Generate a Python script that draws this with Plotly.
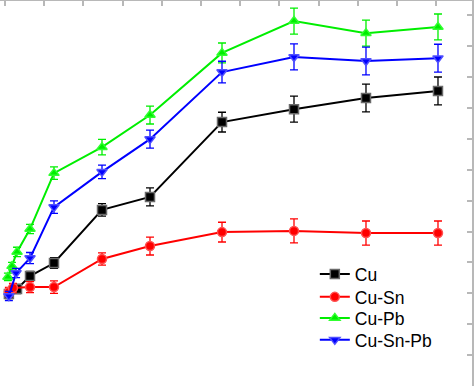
import plotly.graph_objects as go

# Data (x: time-like units, y: arbitrary units)
series_names = ["Cu", "Cu-Sn", "Cu-Pb", "Cu-Sn-Pb"]

cu_x = [1.12, 1.46, 2.0, 3.0, 5.0, 7.0, 10.0, 13.0, 16.0, 19.0]
cu_y = [2.98, 3.14, 3.56, 3.98, 5.70, 6.12, 8.54, 8.96, 9.32, 9.55]
cu_err = [0.15, 0.15, 0.15, 0.17, 0.20, 0.29, 0.32, 0.42, 0.45, 0.45]

cusn_x = [1.12, 1.29, 2.0, 3.0, 5.0, 7.0, 10.0, 13.0, 16.0, 19.0]
cusn_y = [3.04, 3.17, 3.20, 3.20, 4.11, 4.53, 4.98, 5.02, 4.95, 4.95]
cusn_err = [0.15, 0.15, 0.18, 0.20, 0.20, 0.29, 0.32, 0.39, 0.39, 0.39]

cupb_x = [1.08, 1.25, 1.46, 2.0, 3.0, 5.0, 7.0, 10.0, 13.0, 16.0, 19.0]
cupb_y = [3.53, 3.88, 4.34, 5.08, 6.89, 7.73, 8.77, 10.78, 11.81, 11.42, 11.62]
cupb_err = [0.12, 0.12, 0.15, 0.15, 0.20, 0.25, 0.29, 0.32, 0.42, 0.42, 0.42]

cusnpb_x = [1.12, 1.42, 2.0, 3.0, 5.0, 7.0, 10.0, 13.0, 16.0, 19.0]
cusnpb_y = [2.91, 3.66, 4.14, 5.79, 6.93, 7.99, 10.16, 10.65, 10.52, 10.61]
cusnpb_err = [0.15, 0.15, 0.18, 0.20, 0.22, 0.29, 0.35, 0.42, 0.45, 0.45]

colors = ["#000000", "#ff0000", "#00ee00", "#0000ff"]
symbols = ["square", "circle", "triangle-up", "triangle-down"]
line_cols = ["#6a6a6a", "#ff5050", "#30ff30", "#5050ff"]
legend_ids = ["legend", "legend2", "legend3", "legend4"]
legend_rows_y = [0.2909, 0.2312, 0.1766, 0.1195]

fig = go.Figure()
for name, xs, ys, es, col, sym, lc, lid in zip(
    series_names,
    [cu_x, cusn_x, cupb_x, cusnpb_x],
    [cu_y, cusn_y, cupb_y, cusnpb_y],
    [cu_err, cusn_err, cupb_err, cusnpb_err],
    colors, symbols, line_cols, legend_ids,
):
    fig.add_trace(go.Scatter(
        x=xs, y=ys, name=name, mode="lines+markers", legend=lid,
        line=dict(color=col, width=2),
        marker=dict(symbol=sym, size=9, color=col, line=dict(color=lc, width=1.5)),
        error_y=dict(type="data", array=es, visible=True, color=col, thickness=1.3, width=4),
        cliponaxis=False,
    ))

axis_col = "#b8b8b8"
legend_common = dict(x=0.667, xanchor="left", yanchor="middle",
                     bgcolor="rgba(0,0,0,0)", font=dict(size=17.5))
fig.update_layout(
    width=474, height=386,
    margin=dict(l=0, r=2, t=1, b=0),
    paper_bgcolor="white", plot_bgcolor="white",
    font=dict(family="Liberation Sans, Arial, sans-serif", size=17, color="#000000"),
    showlegend=True,
    xaxis=dict(range=[0.75, 20.417], side="top", showline=True, linecolor=axis_col,
               linewidth=2, ticks="inside", ticklen=5, tickwidth=1.5, tickcolor=axis_col,
               tick0=0.958, dtick=1.633, showticklabels=False, showgrid=False,
               zeroline=False),
    yaxis=dict(range=[0, 12.46], side="right", showline=True, linecolor=axis_col,
               linewidth=2, ticks="inside", ticklen=5, tickwidth=1.5, tickcolor=axis_col,
               tick0=0, dtick=1, showticklabels=False, showgrid=False, zeroline=False),
)
for lid, ly in zip(legend_ids, legend_rows_y):
    fig.update_layout({lid: dict(legend_common, y=ly)})

fig.write_html("out.html", config={"displayModeBar": False},
               post_script="document.body.style.margin='0px';")
